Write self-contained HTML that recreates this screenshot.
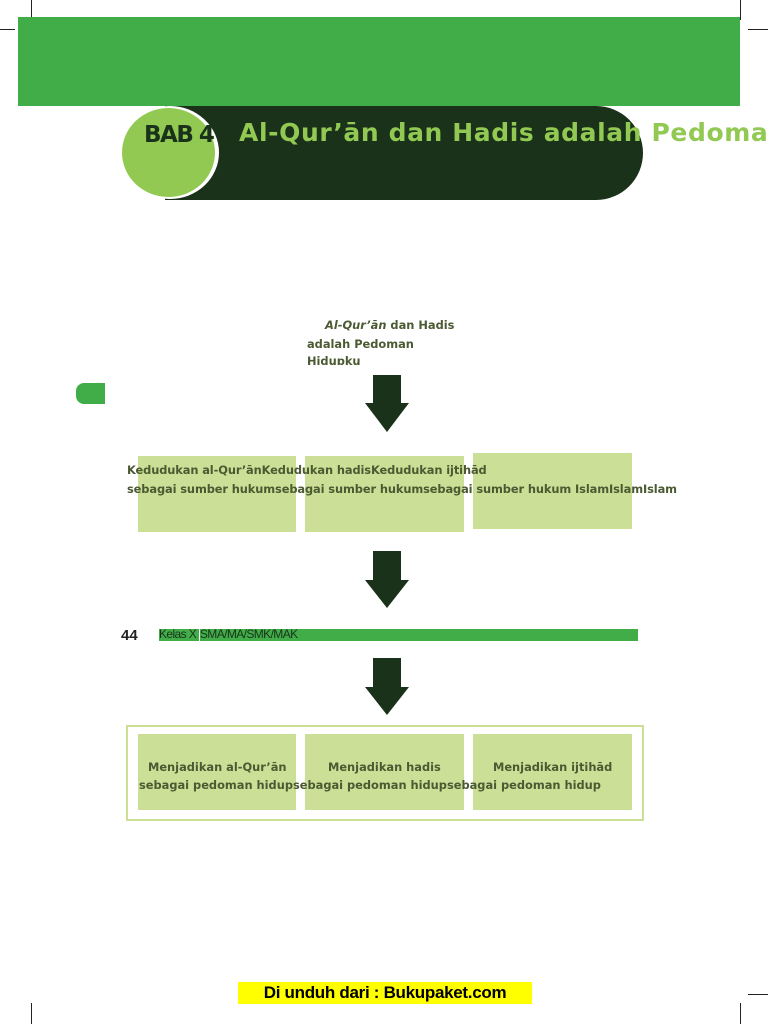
<!DOCTYPE html>
<html><head><meta charset="utf-8"><style>
*{margin:0;padding:0;box-sizing:border-box}
body{width:768px;height:1024px;background:#fff;position:relative;overflow:hidden;font-family:"Liberation Sans","DejaVu Sans",sans-serif}
.a{position:absolute}
.ln{position:absolute;background:#222}
.box{position:absolute;background:#cbe096}
.t{position:absolute;font-family:"DejaVu Sans","Liberation Sans",sans-serif;font-weight:bold;color:#4b5a32;font-size:11.4px;white-space:nowrap;line-height:19px}
</style></head><body>
<div class="ln" style="left:31px;top:0;width:1px;height:20px"></div>
<div class="ln" style="left:740px;top:0;width:1px;height:20px"></div>
<div class="ln" style="left:0;top:29px;width:15px;height:1px"></div>
<div class="ln" style="left:748px;top:29px;width:20px;height:1px"></div>
<div class="a" style="left:18px;top:17px;width:722px;height:89px;background:#41ad49"></div>
<div class="a" style="left:165px;top:106px;width:478px;height:94px;background:#1a321a;border-radius:0 47px 47px 0"></div>
<div class="a" style="left:121px;top:106px;width:98px;height:93px;border-radius:50%;background:#fff"></div>
<div class="a" style="left:122px;top:108px;width:93px;height:89px;border-radius:50%;background:#92c953"></div>
<div class="a" style="left:144px;top:122px;font-family:'DejaVu Sans',sans-serif;font-weight:bold;font-size:23px;color:#1a321a;letter-spacing:-1.5px">BAB 4</div>
<div class="a" style="left:239px;top:118px;font-family:'DejaVu Sans',sans-serif;font-weight:bold;font-size:25px;color:#92c953;white-space:nowrap;letter-spacing:0.6px">Al-Qur’ān dan Hadis adalah Pedoma</div>

<div class="a" style="left:300px;top:316px;width:170px;height:49px;overflow:hidden">
<div class="t" style="position:relative;left:25px;top:0"><i>Al-Qur’ān</i> dan Hadis</div>
<div class="t" style="position:relative;left:7px;top:0">adalah Pedoman</div>
<div class="t" style="position:relative;left:7px;top:-2px">Hidupku</div>
</div>
<div class="a" style="left:76px;top:383px;width:29px;height:21px;background:#41ad49;border-radius:8px 0 0 8px"></div>

<svg class="a" style="left:0;top:0" width="768" height="1024">
<polygon points="373,375 401,375 401,403 409,403 387,432 365,403 373,403" fill="#1a321a"/>
<polygon points="373,551 401,551 401,580 409,580 387,608 365,580 373,580" fill="#1a321a"/>
<polygon points="373,658 401,658 401,687 409,687 387,715 365,687 373,687" fill="#1a321a"/>
</svg>

<div class="box" style="left:138px;top:456px;width:158px;height:76px"></div>
<div class="box" style="left:305px;top:456px;width:159px;height:76px"></div>
<div class="box" style="left:473px;top:453px;width:159px;height:76px"></div>
<div class="t" style="left:127px;top:461px;letter-spacing:-0.1px">Kedudukan al-Qur’ānKedudukan hadisKedudukan ijtihād</div>
<div class="t" style="left:127px;top:480px;letter-spacing:-0.1px">sebagai sumber hukumsebagai sumber hukumsebagai sumber hukum IslamIslamIslam</div>

<div class="a" style="left:121px;top:627px;font-size:15px;font-weight:bold;color:#222">44</div>
<div class="a" style="left:159px;top:629px;width:479px;height:12px;background:#41ad49"></div>
<div class="a" style="left:159px;top:627px;font-size:12px;color:#1a321a;letter-spacing:-0.6px;line-height:14px">Kelas X <span style="border-left:1px solid #fff">SMA/MA/SMK/MAK</span></div>

<div class="a" style="left:126px;top:725px;width:518px;height:96px;border:2px solid #cbe096"></div>
<div class="box" style="left:138px;top:734px;width:158px;height:76px"></div>
<div class="box" style="left:305px;top:734px;width:159px;height:76px"></div>
<div class="box" style="left:473px;top:734px;width:159px;height:76px"></div>
<div class="t" style="left:148px;top:758px">Menjadikan al-Qur’ān</div>
<div class="t" style="left:328px;top:758px">Menjadikan hadis</div>
<div class="t" style="left:493px;top:758px">Menjadikan ijtihād</div>
<div class="t" style="left:139px;top:776px">sebagai pedoman hidupsebagai pedoman hidupsebagai pedoman hidup</div>

<div class="a" style="left:238px;top:982px;width:294px;height:22px;background:#ffff00;font-weight:bold;font-size:17px;line-height:22px;text-align:center;color:#000;letter-spacing:-0.3px">Di unduh dari : Bukupaket.com</div>
<div class="ln" style="left:31px;top:1003px;width:1px;height:21px"></div>
<div class="ln" style="left:740px;top:1003px;width:1px;height:21px"></div>
<div class="ln" style="left:748px;top:994px;width:20px;height:1px"></div>
</body></html>
